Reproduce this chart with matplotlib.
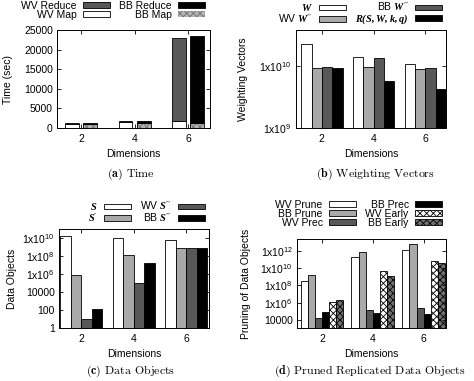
import numpy as np
import matplotlib
matplotlib.use("Agg")
import matplotlib.pyplot as plt
from matplotlib.ticker import FixedLocator, FuncFormatter, NullLocator

plt.rcParams["font.family"] = ["Liberation Sans", "DejaVu Sans"]
plt.rcParams["font.size"] = 7.5
plt.rcParams["mathtext.fontset"] = "custom"
plt.rcParams["mathtext.rm"] = "Liberation Sans"
plt.rcParams["mathtext.it"] = "Liberation Sans:italic"
plt.rcParams["mathtext.bf"] = "Liberation Sans:bold"
plt.rcParams["mathtext.bfit"] = "Liberation Serif:italic:bold"
plt.rcParams["hatch.linewidth"] = 0.6

# ---- data ----
dims = ["2", "4", "6"]

# (a) time, seconds (stacked: map + reduce)
wv_map = [1000, 1500, 1800]
wv_total = [1300, 1800, 23000]
bb_map = [1000, 1400, 1300]
bb_total = [1300, 1900, 23500]

# (b) weighting vectors
w_all = [2.26e10, 1.41e10, 1.06e10]
wv_w2 = [9.4e9, 9.7e9, 9.0e9]
bb_w2 = [9.6e9, 1.36e10, 9.3e9]
rsk = [9.3e9, 5.7e9, 4.2e9]

# (c) data objects
s_all = [1.95e10, 1.2e10, 6.4e9]
s_1 = [7.9e5, 1.35e8, 7.6e8]
wv_s2 = [10, 1.1e5, 8.9e8]
bb_s2 = [148, 1.6e7, 8.9e8]

# (d) pruned replicated data objects
wv_prune = [3.5e8, 2.0e11, 1.2e12]
bb_prune = [1.6e9, 7.7e11, 5.8e12]
wv_prec = [1.6e4, 1.3e5, 2.6e5]
bb_prec = [8.0e4, 7.0e4, 4.5e4]
wv_early = [1.2e6, 5.0e9, 7.0e10]
bb_early = [2.0e6, 1.1e9, 3.5e10]

WHITE = "white"
LIGHT = "#a9a9a9"
DARK = "#585858"
BLACK = "black"

W, H = 474, 381
fig = plt.figure(figsize=(W / 100, H / 100), dpi=100)


def axes_px(left, right, top, bottom):
    return fig.add_axes([left / W, 1 - bottom / H, (right - left) / W, (bottom - top) / H])


def style(ax, xlim):
    x = np.arange(len(dims))
    ax.set_xticks(x)
    ax.set_xticklabels(dims)
    ax.set_xlim(*xlim)
    ax.tick_params(direction="in", top=True, right=True, length=3, width=0.6, pad=3)
    ax.tick_params(axis="x", pad=4)
    for sp in ax.spines.values():
        sp.set_linewidth(0.7)
    ax.set_xlabel("Dimensions", labelpad=4)


def sci(v, pos):
    e = int(round(np.log10(v)))
    if e <= 4:
        return str(int(round(v)))
    return r"1x10$^{%d}$" % e


def legend(ax, handles, labels, right, top):
    leg = ax.legend(handles, labels, ncol=2, markerfirst=False, frameon=False,
                    loc="upper right", bbox_to_anchor=(right / W, 1 - top / H),
                    bbox_transform=fig.transFigure, borderpad=0, borderaxespad=0,
                    handlelength=2.6, handleheight=0.45, handletextpad=0.6,
                    columnspacing=0.9, labelspacing=-0.1, fontsize=7.5)
    return leg


def caption(xc, yc, tag, text):
    fig.text(xc / W, 1 - yc / H, r"$\mathbf{(%s)}$ %s" % (tag, text),
             ha="center", va="center", fontsize=8.6, family="cmr10",
             math_fontfamily="cm")


x = np.arange(len(dims))
kw = dict(edgecolor="black", linewidth=0.6)

# ---------- (a) ----------
ax = axes_px(57, 210, 30, 128)
wv_red = np.array(wv_total) - np.array(wv_map)
bb_red = np.array(bb_total) - np.array(bb_map)
w = 0.26
h1 = ax.bar(x - 0.17, wv_map, w, color=WHITE, **kw)
h2 = ax.bar(x - 0.17, wv_red, w, bottom=wv_map, color=DARK, **kw)
h3 = ax.bar(x + 0.17, bb_map, w, color="#b4b4b4", hatch="xxxxx", edgecolor="#6e6e6e", linewidth=0)
ax.bar(x + 0.17, bb_map, w, color="none", **kw)
h4 = ax.bar(x + 0.17, bb_red, w, bottom=bb_map, color=BLACK, **kw)
ax.set_ylim(0, 25000)
ax.set_yticks(np.arange(0, 25001, 5000))
ax.yaxis.set_minor_locator(NullLocator())
style(ax, (-0.45, 2.41))
ax.set_ylabel("Time (sec)", labelpad=8)
legend(ax, [h2, h1, h4, h3], ["WV Reduce", "WV Map", "BB Reduce", "BB Map"], 205, 1)
caption(131, 174, "a", "Time")

# ---------- (b) ----------
ax = axes_px(296, 446, 30, 128)
w = 0.2
series = [(w_all, WHITE), (wv_w2, LIGHT), (bb_w2, DARK), (rsk, BLACK)]
hs = []
for i, (vals, c) in enumerate(series):
    hs.append(ax.bar(x + (i - 1.5) * w, vals, w, color=c, **kw))
ax.set_yscale("log")
ax.set_ylim(1e9, 3.8e10)
ax.yaxis.set_major_locator(FixedLocator([1e9, 1e10]))
ax.yaxis.set_minor_locator(NullLocator())
ax.yaxis.set_major_formatter(FuncFormatter(sci))
style(ax, (-0.5, 2.4))
ax.set_ylabel("Weighting Vectors", labelpad=8)
legend(ax, hs, [r"$\mathbfit{W}$", r"WV $\mathbfit{W''}$", r"BB $\mathbfit{W''}$",
                r"$\mathbfit{R(S,W,k,q)}$"], 442, 1)
caption(375, 174, "b", "Weighting Vectors")

# ---------- (c) ----------
ax = axes_px(59, 209, 229, 328)
series = [(s_all, WHITE), (s_1, LIGHT), (wv_s2, DARK), (bb_s2, BLACK)]
hs = []
for i, (vals, c) in enumerate(series):
    hs.append(ax.bar(x + (i - 1.5) * w, vals, w, color=c, **kw))
ax.set_yscale("log")
ax.set_ylim(1, 1.1e11)
ax.yaxis.set_major_locator(FixedLocator([1, 1e2, 1e4, 1e6, 1e8, 1e10]))
ax.yaxis.set_minor_locator(NullLocator())
ax.yaxis.set_major_formatter(FuncFormatter(sci))
style(ax, (-0.42, 2.43))
ax.set_ylabel("Data Objects", labelpad=4)
legend(ax, hs, [r"$\mathbfit{S}$", r"$\mathbfit{S'}$", r"WV $\mathbfit{S''}$",
                r"BB $\mathbfit{S''}$"], 205, 200)
caption(131, 371, "c", "Data Objects")

# ---------- (d) ----------
ax = axes_px(297, 446, 239, 328)
w = 0.14
series = [(wv_prune, WHITE, None), (bb_prune, LIGHT, None),
          (wv_prec, DARK, None), (bb_prec, BLACK, None),
          (wv_early, WHITE, "xxxxx"), (bb_early, "#707070", "xxxxx")]
hs = []
for i, (vals, c, hatch) in enumerate(series):
    hs.append(ax.bar(x + (i - 2.5) * w, vals, w, color=c, hatch=hatch, **kw))
ax.set_yscale("log")
ax.set_ylim(1.2e3, 2.2e13)
ax.yaxis.set_major_locator(FixedLocator([1e4, 1e6, 1e8, 1e10, 1e12]))
ax.yaxis.set_minor_locator(NullLocator())
ax.yaxis.set_major_formatter(FuncFormatter(sci))
style(ax, (-0.49, 2.44))
ax.set_ylabel("Pruning of Data Objects", labelpad=7)
legend(ax, hs, ["WV Prune", "BB Prune", "WV Prec", "BB Prec", "WV Early", "BB Early"],
       442, 200)
caption(370, 371, "d", "Pruned Replicated Data Objects")

fig.savefig("out.png", dpi=100)
